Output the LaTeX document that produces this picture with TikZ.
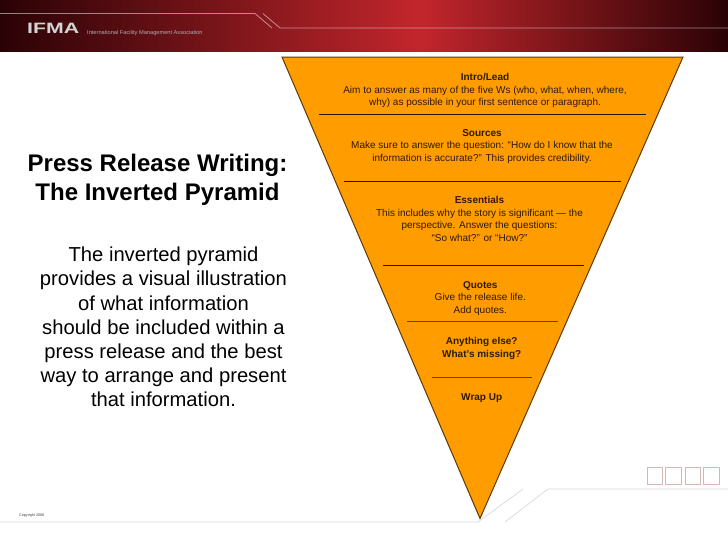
\documentclass[tikz,border=0pt]{standalone}
\usepackage{fontspec}
\usepackage{graphicx}
\setmainfont{Liberation Sans}
\definecolor{hdark}{HTML}{2A0206}
\definecolor{hred}{HTML}{C2262C}
\definecolor{pyr}{HTML}{FF9C00}
\definecolor{pyredge}{HTML}{5A3A08}
\definecolor{txt}{HTML}{2E1A05}
\definecolor{sq}{HTML}{D9B4B4}
\definecolor{rulebrown}{HTML}{6A3E06}
\tikzset{
  pt/.style={font=\fontsize{10}{12.5}\selectfont,text=txt,align=center,inner sep=0pt,anchor=north},
  rule/.style={draw=black!85!pyr,line width=0.9pt},
  softrule/.style={draw=rulebrown,line width=1pt},
  side/.style={font=\fontsize{20.2}{24.2}\selectfont,text=black,align=center,inner sep=0pt},
  sqbox/.style={draw=sq,line width=1pt,fill=white,minimum width=15.5pt,minimum height=17pt,inner sep=0pt},
  hline/.style={draw=white,draw opacity=0.5,line width=0.8pt},
  foot/.style={draw=black!15,line width=0.7pt}
}
\begin{document}
\begin{tikzpicture}[x=1pt,y=-1pt]
\useasboundingbox (0,0) rectangle (728,546);
\fill[white] (0,0) rectangle (728,546);
\shade[left color=hdark,right color=hred] (0,0) rectangle (420,51.5);
\shade[left color=hred,right color=hdark] (420,0) rectangle (728,51.5);
\coordinate (h1) at (0,13.5); \coordinate (h2) at (255,13.5); \coordinate (h3) at (272,28);
\coordinate (h4) at (263,13.5); \coordinate (h5) at (280,28); \coordinate (h6) at (728,28);
\draw[hline] (h1) -- (h2) -- (h3);
\draw[hline] (h4) -- (h5) -- (h6);
\node[inner sep=0pt,anchor=west,font=\bfseries\fontsize{15}{15}\selectfont,text=black!17] (logo) at (27,28.5) {\scalebox{1.42}[1]{IFMA}};
\node[inner sep=0pt,anchor=west,font=\fontsize{5.66}{7}\selectfont,text=black!32] (assoc) at (87,33) {International Facility Management Association};
\coordinate (tl) at (282,57);
\coordinate (tr) at (683,57);
\coordinate (ap) at (480,518.5);
\draw[fill=pyr,draw=pyredge,line width=1pt,line join=miter] (tl) -- (tr) -- (ap) -- cycle;
\node[pt] (intro) at (485,73.3) {\textbf{Intro/Lead}\\Aim to answer as many of the five Ws (who, what, when, where,\\why) as possible in your first sentence or paragraph.};
\node[pt] (sources) at (482,129.3) {\textbf{Sources}\\Make sure to answer the question: “How do I know that the\\information is accurate?” This provides credibility.};
\node[pt] (essentials) at (479.5,196.3) {\textbf{Essentials}\\This includes why the story is significant — the\\perspective. Answer the questions:\\“So what?” or “How?”};
\node[pt] (quotes) at (480.3,281.3) {\textbf{Quotes}\\Give the release life.\\Add quotes.};
\node[pt] (anything) at (481.7,337.3) {\textbf{Anything else?}\\\textbf{What’s missing?}};
\node[pt] (wrap) at (481.7,393.3) {\textbf{Wrap Up}};
\coordinate (a1) at (319,114.5); \coordinate (a2) at (646,114.5);
\coordinate (b1) at (343.5,181); \coordinate (b2) at (620.5,181);
\coordinate (c1) at (383,265); \coordinate (c2) at (583.5,265);
\coordinate (d1) at (407,321.3); \coordinate (d2) at (557.5,321.3);
\coordinate (e1) at (432,377.7); \coordinate (e2) at (532,377.7);
\draw[rule] (a1) -- (a2);
\draw[rule] (b1) -- (b2);
\draw[rule] (c1) -- (c2);
\draw[softrule] (d1) -- (d2);
\draw[softrule] (e1) -- (e2);
\node[side,font=\bfseries\fontsize{24}{29}\selectfont] (title) at (157.5,179.5) {Press Release Writing:\\The Inverted Pyramid};
\node[side] (body) at (163.5,327) {The inverted pyramid\\provides a visual illustration\\of what information~\\should be included within a\\press release and the best\\way to arrange and present\\that information.};
\foreach \n/\x in {s1/655,s2/673.7,s3/693,s4/711.7}
  \node[sqbox] (\n) at (\x,476) {};
\coordinate (f1) at (548,489); \coordinate (f2) at (728,489); \coordinate (f3) at (505,522);
\draw[foot] (f3) -- (f1) -- (f2);
\coordinate (g1) at (0,522); \coordinate (g2) at (478,522); \coordinate (g3) at (523,489);
\draw[foot] (g1) -- (g2) -- (g3);
\node[inner sep=0pt,anchor=west,font=\fontsize{3.7}{5}\selectfont,text=black!75] (copy) at (19,516) {Copyright 2008};
\end{tikzpicture}
\end{document}
